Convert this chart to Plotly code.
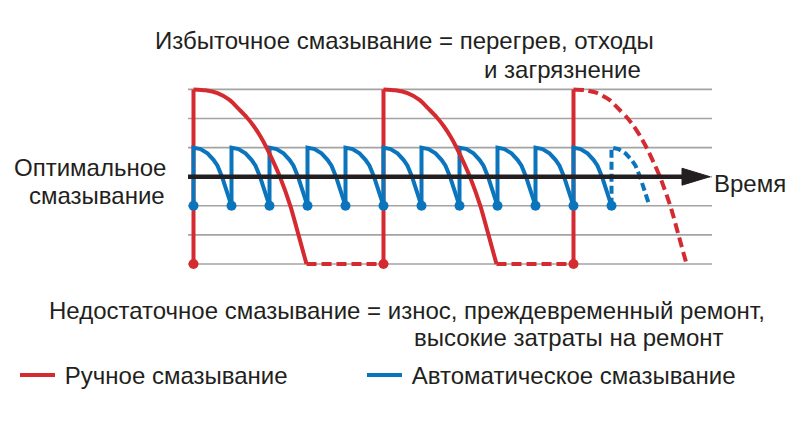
import plotly.graph_objects as go

# ---- data (x in time units, y in lubrication levels) ----
levels = [0, 1, 2, 3, 4, 5, 6]
grid_x = [-5.5, 518.5]
optimal_level = 3
axis_x = [-5.5, 488.5, 516.5]

red_starts = [0, 190, 380]
red_dashed_cycle = [False, False, True]
red_low, red_high = 0, 6
red_dx = [0, 12, 24, 36, 46, 53, 60, 67, 73.5, 80, 87, 97, 105, 113]
red_y = [6.0, 5.97, 5.87, 5.64, 5.3, 5.05, 4.75, 4.38, 3.97, 3.5, 2.95, 1.98, 1.0, 0.0]

blue_starts = [0, 38, 76, 114, 152, 190, 228, 266, 304, 342, 380, 418]
blue_dashed_cycle = [False] * 11 + [True]
blue_low, blue_high = 2, 4
blue_dx = [0, 7, 14, 20, 24, 28.5, 32, 35, 38]
blue_y = [4.0, 3.95, 3.8, 3.58, 3.38, 3.0, 2.62, 2.3, 2.0]

RED = "#d52b30"
BLUE = "#0a74bd"
BLACK = "#231f20"
GRAY = "#a3a3a3"
FONT = "Liberation Sans, Arial, sans-serif"
FS = 24

fig = go.Figure()

# gray level lines
gx, gy = [], []
for lv in levels:
    gx += [grid_x[0], grid_x[1], None]
    gy += [lv, lv, None]
fig.add_trace(go.Scatter(x=gx, y=gy, mode="lines", line=dict(color=GRAY, width=1.6),
                         showlegend=False, hoverinfo="skip"))

# red verticals (below blue)
rvx, rvy = [], []
for s in red_starts:
    rvx += [s, s, None]
    rvy += [red_low, red_high, None]
fig.add_trace(go.Scatter(x=rvx, y=rvy, mode="lines", line=dict(color=RED, width=4),
                         showlegend=False, hoverinfo="skip"))

# blue solid / dashed
bsx, bsy, bdx, bdy = [], [], [], []
for s, dashed in zip(blue_starts, blue_dashed_cycle):
    xs = [s] + [s + d for d in blue_dx]
    ys = [blue_low] + blue_y
    if dashed:
        bdx += xs + [None]
        bdy += ys + [None]
    else:
        bsx += xs + [None]
        bsy += ys + [None]
fig.add_trace(go.Scatter(x=bsx, y=bsy, mode="lines", name="\u2009Автоматическое смазывание",
                         line=dict(color=BLUE, width=4), legend="legend2", hoverinfo="skip"))
fig.add_trace(go.Scatter(x=bdx, y=bdy, mode="lines", line=dict(color=BLUE, width=4, dash="8px,4px"),
                         showlegend=False, hoverinfo="skip"))

# red curves solid / dashed
rsx, rsy, rdx, rdy = [], [], [], []
for i, (s, dashed) in enumerate(zip(red_starts, red_dashed_cycle)):
    xs = [s + d for d in red_dx]
    ys = list(red_y)
    if dashed:
        rdx += xs + [None]
        rdy += ys + [None]
    else:
        rsx += xs + [None]
        rsy += ys + [None]
        # dashed idle period until next manual lubrication
        rdx += [s + red_dx[-1], red_starts[i + 1], None]
        rdy += [red_low, red_low, None]
fig.add_trace(go.Scatter(x=rsx, y=rsy, mode="lines", name="\u2009Ручное смазывание",
                         line=dict(color=RED, width=4, shape="spline", smoothing=0.6),
                         legend="legend", hoverinfo="skip"))
fig.add_trace(go.Scatter(x=rdx, y=rdy, mode="lines",
                         line=dict(color=RED, width=4, dash="10px,5px", shape="spline", smoothing=0.6),
                         showlegend=False, hoverinfo="skip"))

# dots
fig.add_trace(go.Scatter(x=red_starts, y=[red_low] * len(red_starts), mode="markers",
                         marker=dict(color=RED, size=10), showlegend=False, hoverinfo="skip"))
fig.add_trace(go.Scatter(x=blue_starts, y=[blue_low] * len(blue_starts), mode="markers",
                         marker=dict(color=BLUE, size=10), showlegend=False, hoverinfo="skip"))

# time axis arrow
fig.add_trace(go.Scatter(x=axis_x[:2], y=[optimal_level] * 2, mode="lines",
                         line=dict(color=BLACK, width=4.5), showlegend=False, hoverinfo="skip"))
fig.add_trace(go.Scatter(x=[axis_x[1], axis_x[2], axis_x[1], axis_x[1]],
                         y=[optimal_level + 0.29, optimal_level, optimal_level - 0.29, optimal_level + 0.29],
                         mode="lines", fill="toself", fillcolor=BLACK, line=dict(color=BLACK, width=1),
                         showlegend=False, hoverinfo="skip"))

W, H = 800, 427
def ann(text, px, py, xanchor="center", size=FS):
    fig.add_annotation(text=text, x=px / W, y=1 - py / H, xref="paper", yref="paper",
                       xanchor=xanchor, yanchor="middle", showarrow=False,
                       font=dict(family=FONT, size=size, color=BLACK))

ann("Избыточное смазывание = перегрев, отходы", 404, 40)
ann("и загрязнение", 562, 70)
ann("Оптимальное", 168, 167, "right")
ann("смазывание", 167, 195, "right")
ann("Время", 712, 183, "left")
ann("Недостаточное смазывание = износ, преждевременный ремонт,", 407, 310)
ann("высокие затраты на ремонт", 569, 337)

legend_common = dict(orientation="h", xanchor="left", yanchor="top", y=1 - 353 / H,
                     font=dict(family=FONT, size=FS, color=BLACK), itemwidth=35,
                     bgcolor="rgba(0,0,0,0)")
fig.update_layout(
    width=W, height=H, margin=dict(l=0, r=0, t=0, b=0),
    paper_bgcolor="white", plot_bgcolor="white",
    xaxis=dict(range=[-193.5, 606.5], visible=False, fixedrange=True),
    yaxis=dict(range=[-5.601, 9.072], visible=False, fixedrange=True),
    legend=dict(x=15 / W, **legend_common),
    legend2=dict(x=362 / W, **legend_common),
    font=dict(family=FONT),
)

fig.write_html("out.html", config={"displayModeBar": False},
               post_script="document.body.style.margin='0';document.body.style.overflow='hidden';")
